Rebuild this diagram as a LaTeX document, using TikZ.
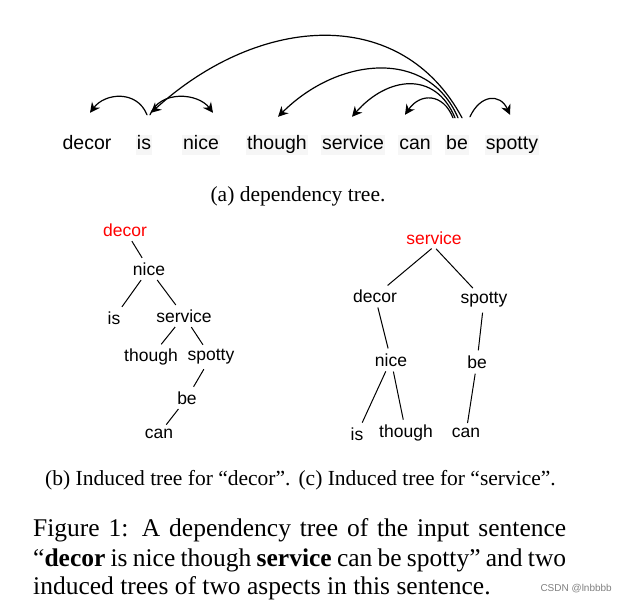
\documentclass[tikz,border=0pt]{standalone}
\usepackage{fontspec}
\setmainfont{Liberation Serif}
\setsansfont{Liberation Sans}
\usepackage{tikz}
\usetikzlibrary{arrows.meta, positioning, calc}

\begin{document}
\begin{tikzpicture}[
    x=1pt, y=1pt,
    word/.style={font=\sffamily\fontsize{19.5}{19.5}\selectfont, fill=gray!7, inner sep=1pt, text height=14pt, text depth=4pt, anchor=base},
    tnode/.style={font=\sffamily\fontsize{17.5}{17.5}\selectfont, inner sep=2pt},
    aspect/.style={tnode, text=red},
    dep/.style={-{Stealth[length=10pt, width=10pt]}, line width=1.2pt, line cap=round},
    edge/.style={line width=1pt, shorten <=3pt, shorten >=3pt},
    captext/.style={font=\fontsize{21.5}{21.5}\selectfont, anchor=base},
    figcap/.style={font=\fontsize{25.5}{25.5}\selectfont, anchor=base west, inner sep=0pt}
]
\useasboundingbox (0,0) rectangle (622,604);

% Sentence
\node[word, fill=none] (decor) at (87,454) {decor};
\node[word] (is) at (144,454) {is};
\node[word] (nice) at (201,454) {nice};
\node[word] (though) at (277,454) {though};
\node[word] (service) at (353,454) {service};
\node[word] (can) at (415,454) {can};
\node[word] (be) at (457,454) {be};
\node[word] (spotty) at (512,454) {spotty};

% Dependency arcs
\draw[dep] ([xshift=3pt, yshift=20pt]is.north) .. controls +(-10,25) and +(15,20) .. ([xshift=3pt, yshift=22pt]decor.north);
\draw[dep] ([xshift=6pt, yshift=20pt]is.north) .. controls +(10,25) and +(-15,20) .. ([xshift=12pt, yshift=22pt]nice.north);
\draw[dep] ([xshift=5pt, yshift=17pt]be.north) .. controls +(-60,112) and +(110,100) .. ([xshift=7pt, yshift=22pt]is.north);
\draw[dep] ([xshift=1pt, yshift=17pt]be.north) .. controls +(-30,70) and +(60,60) .. ([xshift=1pt, yshift=18pt]though.north);
\draw[dep] ([xshift=-2pt, yshift=17pt]be.north) .. controls +(-20,48) and +(35,40) .. ([xshift=-1pt, yshift=18pt]service.north);
\draw[dep] ([xshift=-4pt, yshift=17pt]be.north) .. controls +(-10,25) and +(15,22) .. ([xshift=-10pt, yshift=20pt]can.north);
\draw[dep] ([xshift=13pt, yshift=18pt]be.north) .. controls +(10,22) and +(-10,22) .. ([xshift=-2pt, yshift=20pt]spotty.north);

\node[captext] (capa) at (298,402) {(a) dependency tree.};

% Induced tree for decor
\node[aspect] (b-decor) at (125,374) {decor};
\node[tnode] (b-nice) at (149,335) {nice};
\node[tnode] (b-is) at (114,286) {is};
\node[tnode] (b-service) at (184,288) {service};
\node[tnode] (b-though) at (151,247) {though};
\node[tnode] (b-spotty) at (211,247) {spotty};
\node[tnode] (b-be) at (187,206) {be};
\node[tnode] (b-can) at (159,170) {can};
\draw[edge] (b-decor) -- (b-nice);
\draw[edge] (b-nice) -- (b-is);
\draw[edge] (b-nice) -- (b-service);
\draw[edge] (b-service) -- (b-though);
\draw[edge] (b-service) -- (b-spotty);
\draw[edge] (b-spotty) -- (b-be);
\draw[edge] (b-be) -- (b-can);

% Induced tree for service
\node[aspect] (c-service) at (434,366) {service};
\node[tnode] (c-decor) at (375,308) {decor};
\node[tnode] (c-spotty) at (484,304) {spotty};
\node[tnode] (c-nice) at (391,244) {nice};
\node[tnode] (c-be) at (477,242) {be};
\node[tnode] (c-is) at (357,170) {is};
\node[tnode] (c-though) at (406,171) {though};
\node[tnode] (c-can) at (466,171) {can};
\draw[edge] (c-service.south) -- (c-decor);
\draw[edge] (c-service.south) -- (c-spotty);
\draw[edge] (c-decor) -- (c-nice);
\draw[edge] (c-spotty) -- (c-be);
\draw[edge] (c-nice) -- (c-is);
\draw[edge] (c-nice) -- (c-though);
\draw[edge] (c-be) -- (c-can);

% Captions
\node[captext, anchor=base west, inner sep=0pt] (capb) at (45,118) {(b) Induced tree for \char"201Cdecor\char"201D.};
\node[captext, anchor=base east, inner sep=0pt] (capc) at (556,118) {(c) Induced tree for \char"201Cservice\char"201D.};
\node[figcap] (line1) at (33,67) {\makebox[533pt][s]{Figure 1: A dependency tree of the input sentence}};
\node[figcap] (line2) at (33,37) {\makebox[533pt][s]{\char"201C\textbf{decor} is nice though \textbf{service} can be spotty\char"201D{} and two}};
\node[figcap] (line3) at (33,9) {induced trees of two aspects in this sentence.};
\node[font=\sffamily\fontsize{10}{10}\selectfont, text=gray, anchor=east, inner sep=0pt] (mark) at (612,15) {CSDN @lnbbbb};
\end{tikzpicture}
\end{document}
